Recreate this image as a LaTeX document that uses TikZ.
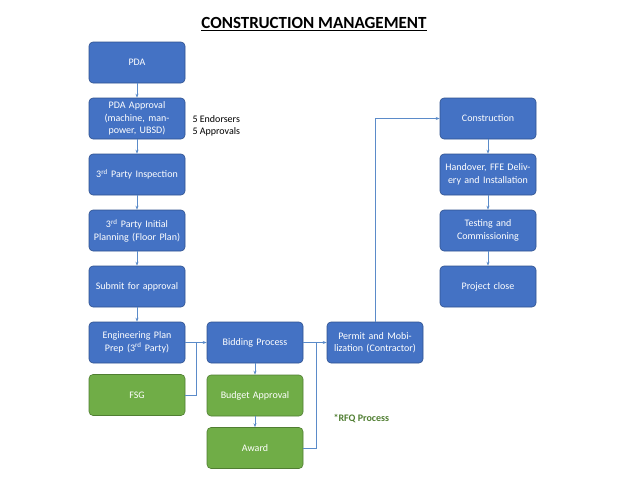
\documentclass[tikz,border=0pt]{standalone}
\usepackage{fontspec}
\setmainfont{Carlito}
\usetikzlibrary{arrows.meta}
\definecolor{bl}{HTML}{4472C4}
\definecolor{blb}{HTML}{2F528F}
\definecolor{gr}{HTML}{70AD47}
\definecolor{grb}{HTML}{507E32}
\definecolor{ln}{HTML}{5B8BC9}
\begin{document}
\begin{tikzpicture}[x=1pt,y=-1pt,
  bbox/.style={draw=blb,fill=bl,rounded corners=4pt,minimum width=96pt,minimum height=41pt,text width=88pt,align=center,text=white,font=\fontsize{10}{12.5}\selectfont,line width=0.6pt},
  gbox/.style={bbox,draw=grb,fill=gr},
  arr/.style={draw=ln,line width=0.6pt,-{Stealth[length=4pt,width=3pt]}},
  ln/.style={draw=ln,line width=0.6pt}]
\useasboundingbox (0,0) rectangle (638,479);
\node[font=\fontsize{17}{20}\selectfont\bfseries] (t) at (314,24) {\underline{CONSTRUCTION MANAGEMENT}};
\node[bbox] (a) at (137,62.5) {PDA};
\node[bbox] (b) at (137,118.5) {PDA Approval (machine, manpower, UBSD)};
\node[bbox] (c) at (137,174.5) {3\textsuperscript{rd} Party Inspection};
\node[bbox] (d) at (137,230.5) {3\textsuperscript{rd} Party Initial Planning (Floor Plan)};
\node[bbox] (e) at (137,286.5) {Submit for approval};
\node[bbox] (f) at (137,342.5) {Engineering Plan Prep (3\textsuperscript{rd} Party)};
\node[gbox] (g) at (137,395) {FSG};
\node[bbox] (h) at (255,342.5) {Bidding Process};
\node[gbox] (i) at (255,395.5) {Budget Approval};
\node[gbox] (j) at (255,448) {Award};
\node[bbox] (k) at (375,342.5) {Permit and Mobilization (Contractor)};
\node[bbox] (l) at (488,118.5) {Construction};
\node[bbox] (m) at (488,174.5) {Handover, FFE Delivery and Installation};
\node[bbox] (n) at (488,230.5) {Testing and Commissioning};
\node[bbox] (o) at (488,286.5) {Project close};
\node[anchor=west,align=left,font=\fontsize{10}{12.5}\selectfont] (p) at (189,126) {5 Endorsers\\5 Approvals};
\node[anchor=west,text=grb,font=\fontsize{10}{12}\selectfont\bfseries] (q) at (330,419) {*RFQ Process};
\foreach \u/\v in {a/b,b/c,c/d,d/e,e/f,h/i,i/j,l/m,m/n,n/o} \draw[arr] (\u) -- (\v);
\draw[arr] (f) -- (h);
\coordinate (x1) at (196,342.5);
\draw[ln] (g.east) -| (x1);
\draw[arr] (h) -- (k);
\coordinate (x2) at (316,342.5);
\draw[ln] (j.east) -| (x2);
\draw[arr] (k.north) |- (l.west);
\end{tikzpicture}
\end{document}
